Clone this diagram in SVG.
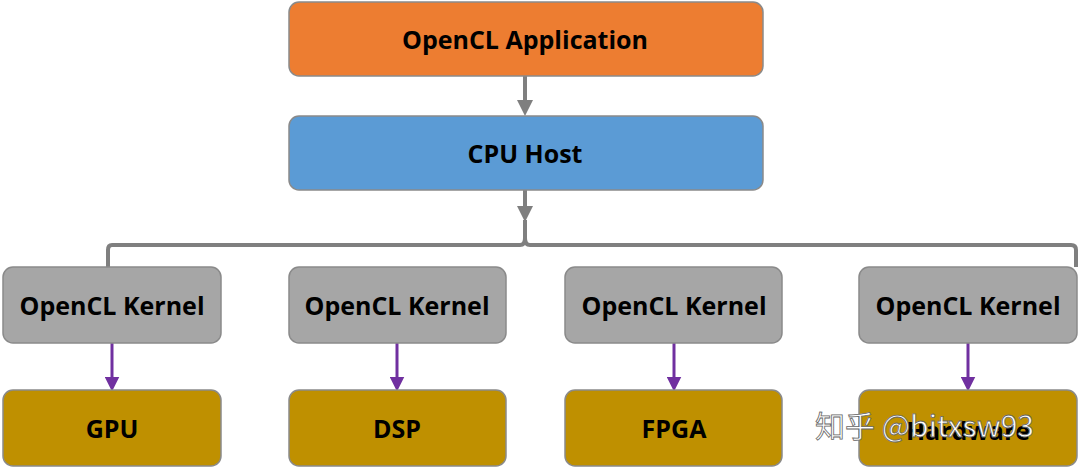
<svg xmlns="http://www.w3.org/2000/svg" width="1080" height="469" viewBox="0 0 1080 469">
<style>
.b{stroke:#8a8a8a;stroke-width:1.5}
.t{font-family:"Open Sans","Liberation Sans",sans-serif;font-weight:bold;font-size:25px;fill:#000;text-anchor:middle;dominant-baseline:central}
.k{fill:#a6a6a6}.d{fill:#bf9000}
.g{stroke:#7f7f7f;stroke-width:4;fill:none}
.p{stroke:#7030a0;stroke-width:3;fill:none}
</style>
<defs>
<marker id="ag" markerWidth="4" markerHeight="4" refX="2" refY="2" orient="auto"><path d="M0,0L4,2L0,4z" fill="#7f7f7f"/></marker>
<marker id="ap" markerWidth="5" markerHeight="5" refX="2.5" refY="2.5" orient="auto"><path d="M0,0L5,2.5L0,5z" fill="#7030a0"/></marker>
</defs>
<rect width="1080" height="469" fill="#fff"/>
<g id="connectors">
<path class="g" d="M525,76V108" marker-end="url(#ag)"/>
<path class="g" d="M525,190V214" marker-end="url(#ag)"/>
<path class="g" d="M525,220V238Q525,245 520,245H112Q108,245 108,250V267M525,238Q525,245 530,245H1071Q1076,245 1076,250V267"/>
<path class="p" d="M112,343V384" marker-end="url(#ap)"/>
<path class="p" d="M397,343V384" marker-end="url(#ap)"/>
<path class="p" d="M674,343V384" marker-end="url(#ap)"/>
<path class="p" d="M968,343V384" marker-end="url(#ap)"/>
</g>
<g id="app"><rect class="b" x="289" y="2" width="474" height="74" rx="10" fill="#ed7d31"/><text class="t" x="525" y="39">OpenCL Application</text></g>
<g id="host"><rect class="b" x="289" y="116" width="474" height="74" rx="10" fill="#5b9bd5"/><text class="t" x="525" y="153">CPU Host</text></g>
<g id="k1"><rect class="b k" x="3" y="267" width="218" height="76" rx="10"/><text class="t" x="112" y="305">OpenCL Kernel</text></g>
<g id="k2"><rect class="b k" x="289" y="267" width="217" height="76" rx="10"/><text class="t" x="397" y="305">OpenCL Kernel</text></g>
<g id="k3"><rect class="b k" x="565" y="267" width="217" height="76" rx="10"/><text class="t" x="674" y="305">OpenCL Kernel</text></g>
<g id="k4"><rect class="b k" x="859" y="267" width="218" height="76" rx="10"/><text class="t" x="968" y="305">OpenCL Kernel</text></g>
<g id="gpu"><rect class="b d" x="3" y="390" width="218" height="76" rx="10"/><text class="t" x="112" y="428">GPU</text></g>
<g id="dsp"><rect class="b d" x="289" y="390" width="217" height="76" rx="10"/><text class="t" x="397" y="428">DSP</text></g>
<g id="fpga"><rect class="b d" x="565" y="390" width="217" height="76" rx="10"/><text class="t" x="674" y="428">FPGA</text></g>
<g id="hw"><rect class="b d" x="859" y="390" width="218" height="76" rx="10"/><text class="t" x="968" y="430">Hardware</text></g>
<text x="815" y="437" font-family="'Noto Sans CJK SC','Noto Sans',sans-serif" font-size="30" fill="#fff" stroke="#666" stroke-width="0.8">知乎 @bitxsw93</text>
</svg>
